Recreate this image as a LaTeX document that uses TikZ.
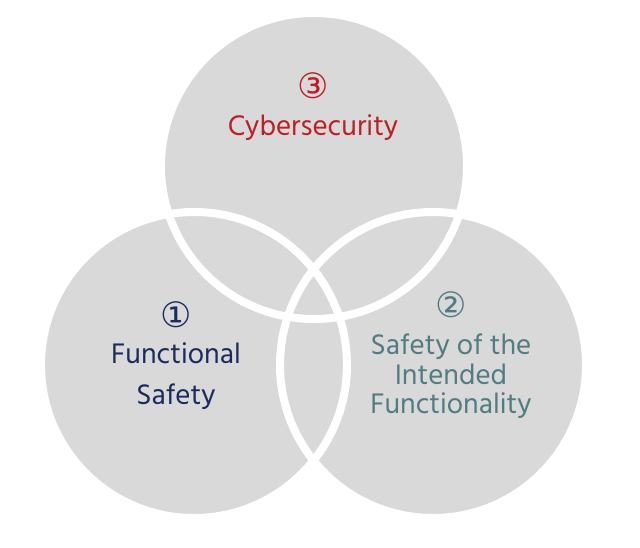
\documentclass[tikz,border=0pt]{standalone}
\usepackage{fontspec}
\setmainfont{Hind Madurai}
\newfontfamily\symfont{DejaVu Sans}
\usepackage{xcolor}
\usetikzlibrary{positioning}

\definecolor{vennGray}{HTML}{D9D9D9}
\definecolor{cyberRed}{HTML}{BE1E24}
\definecolor{fusaBlue}{HTML}{1C2B5C}
\definecolor{sotifTeal}{HTML}{517C82}

\begin{document}
\begin{tikzpicture}[x=1pt, y=-1pt,
        venn fill/.style={fill=vennGray},
        venn line/.style={draw=white, line width=8pt},
        num/.style={font=\symfont\fontsize{35}{38}\selectfont},
        label/.style={font=\fontsize{29}{32}\selectfont, align=center, inner sep=0pt}]
        \useasboundingbox (0,0) rectangle (640,548);

        % Kreise
        \coordinate (cyber) at (314,166);
        \coordinate (fusa)  at (194,365);
        \coordinate (sotif) at (433,365);
        \foreach \c in {cyber, fusa, sotif}
            \fill[venn fill] (\c) circle[radius=153];
        \foreach \c in {cyber, fusa, sotif}
            \draw[venn line] (\c) circle[radius=153];

        % Texte
        \node[num, text=cyberRed] (n_3) at (313,86) {③};
        \node[label, text=cyberRed, anchor=base] (t_3) at (313,136) {Cybersecurity};

        \node[num, text=fusaBlue] (n_1) at (176,315) {①};
        \node[label, text=fusaBlue, anchor=base] (t_1a) at (176,363) {Functional};
        \node[label, text=fusaBlue, anchor=base] (t_1b) at (176,404) {Safety};

        \node[num, text=sotifTeal] (n_2) at (451,305) {②};
        \node[label, text=sotifTeal, anchor=base] (t_2a) at (451,354) {Safety of the};
        \node[label, text=sotifTeal, anchor=base] (t_2b) at (451,384) {Intended};
        \node[label, text=sotifTeal, anchor=base] (t_2c) at (451,413) {Functionality};
    \end{tikzpicture}
\end{document}
